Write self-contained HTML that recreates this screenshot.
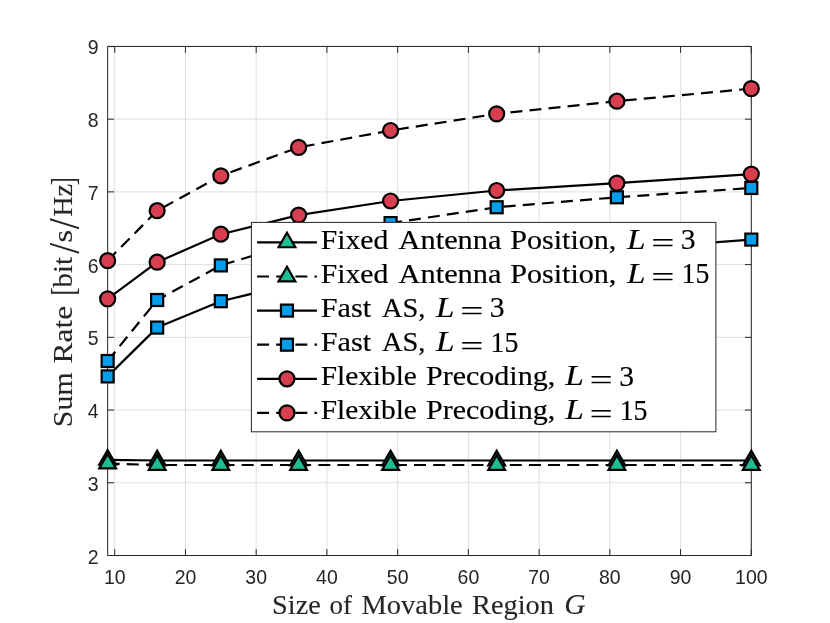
<!DOCTYPE html>
<html><head><meta charset="utf-8"><title>Sum Rate vs Size of Movable Region</title>
<style>html,body{margin:0;padding:0;background:#fff}svg{display:block}text{white-space:pre}
.t{font-family:"Liberation Sans",sans-serif;font-size:20.6px;fill:#262626}
.s{font-family:"Liberation Serif",serif;font-size:27.8px;fill:#000;stroke:#000;stroke-width:0.18px}
.i{font-style:italic;font-size:28.6px}
.d{font-size:29.6px}
.a{fill:#262626;stroke:#262626;stroke-width:0.1px}
</style></head><body>
<svg width="830" height="623" viewBox="0 0 830 623">
<rect width="830" height="623" fill="#fff"/>
<path d="M114.72,46.45V555.5M185.45,46.45V555.5M256.18,46.45V555.5M326.92,46.45V555.5M397.65,46.45V555.5M468.38,46.45V555.5M539.11,46.45V555.5M609.84,46.45V555.5M680.57,46.45V555.5M751.30,46.45V555.5M107.65,555.50H751.3M107.65,482.78H751.3M107.65,410.06H751.3M107.65,337.34H751.3M107.65,264.61H751.3M107.65,191.89H751.3M107.65,119.17H751.3M107.65,46.45H751.3" stroke="#dfdfdf" stroke-width="1" fill="none"/>
<path d="M107.65,46.45H751.3V555.5H107.65ZM114.72,555.5v-6.4M114.72,46.45v6.4M185.45,555.5v-6.4M185.45,46.45v6.4M256.18,555.5v-6.4M256.18,46.45v6.4M326.92,555.5v-6.4M326.92,46.45v6.4M397.65,555.5v-6.4M397.65,46.45v6.4M468.38,555.5v-6.4M468.38,46.45v6.4M539.11,555.5v-6.4M539.11,46.45v6.4M609.84,555.5v-6.4M609.84,46.45v6.4M680.57,555.5v-6.4M680.57,46.45v6.4M751.30,555.5v-6.4M751.30,46.45v6.4M107.65,555.50h6.4M751.3,555.50h-6.4M107.65,482.78h6.4M751.3,482.78h-6.4M107.65,410.06h6.4M751.3,410.06h-6.4M107.65,337.34h6.4M751.3,337.34h-6.4M107.65,264.61h6.4M751.3,264.61h-6.4M107.65,191.89h6.4M751.3,191.89h-6.4M107.65,119.17h6.4M751.3,119.17h-6.4M107.65,46.45h6.4M751.3,46.45h-6.4" stroke="#262626" stroke-width="1" fill="none"/>
<text class="t" transform="translate(114.72,584.3) scale(0.945,1)" text-anchor="middle">10</text>
<text class="t" transform="translate(185.45,584.3) scale(0.945,1)" text-anchor="middle">20</text>
<text class="t" transform="translate(256.18,584.3) scale(0.945,1)" text-anchor="middle">30</text>
<text class="t" transform="translate(326.92,584.3) scale(0.945,1)" text-anchor="middle">40</text>
<text class="t" transform="translate(397.65,584.3) scale(0.945,1)" text-anchor="middle">50</text>
<text class="t" transform="translate(468.38,584.3) scale(0.945,1)" text-anchor="middle">60</text>
<text class="t" transform="translate(539.11,584.3) scale(0.945,1)" text-anchor="middle">70</text>
<text class="t" transform="translate(609.84,584.3) scale(0.945,1)" text-anchor="middle">80</text>
<text class="t" transform="translate(680.57,584.3) scale(0.945,1)" text-anchor="middle">90</text>
<text class="t" transform="translate(751.30,584.3) scale(0.945,1)" text-anchor="middle">100</text>
<text class="t" transform="translate(98.6,563.50) scale(0.945,1)" text-anchor="end">2</text>
<text class="t" transform="translate(98.6,490.78) scale(0.945,1)" text-anchor="end">3</text>
<text class="t" transform="translate(98.6,418.06) scale(0.945,1)" text-anchor="end">4</text>
<text class="t" transform="translate(98.6,345.34) scale(0.945,1)" text-anchor="end">5</text>
<text class="t" transform="translate(98.6,272.61) scale(0.945,1)" text-anchor="end">6</text>
<text class="t" transform="translate(98.6,199.89) scale(0.945,1)" text-anchor="end">7</text>
<text class="t" transform="translate(98.6,127.17) scale(0.945,1)" text-anchor="end">8</text>
<text class="t" transform="translate(98.6,54.45) scale(0.945,1)" text-anchor="end">9</text>
<polyline points="107.65,459.80 157.16,460.50 220.82,460.50 298.62,460.50 390.57,460.50 496.67,460.50 616.91,460.50 751.30,460.50" fill="none" stroke="#000" stroke-width="2.2" stroke-linejoin="round"/>
<polygon points="107.65,450.10 99.25,464.65 116.05,464.65" fill="#1fbe92" stroke="#000" stroke-width="2.2" stroke-linejoin="miter"/>
<polygon points="157.16,450.80 148.76,465.35 165.56,465.35" fill="#1fbe92" stroke="#000" stroke-width="2.2" stroke-linejoin="miter"/>
<polygon points="220.82,450.80 212.42,465.35 229.22,465.35" fill="#1fbe92" stroke="#000" stroke-width="2.2" stroke-linejoin="miter"/>
<polygon points="298.62,450.80 290.22,465.35 307.02,465.35" fill="#1fbe92" stroke="#000" stroke-width="2.2" stroke-linejoin="miter"/>
<polygon points="390.57,450.80 382.17,465.35 398.97,465.35" fill="#1fbe92" stroke="#000" stroke-width="2.2" stroke-linejoin="miter"/>
<polygon points="496.67,450.80 488.27,465.35 505.07,465.35" fill="#1fbe92" stroke="#000" stroke-width="2.2" stroke-linejoin="miter"/>
<polygon points="616.91,450.80 608.51,465.35 625.31,465.35" fill="#1fbe92" stroke="#000" stroke-width="2.2" stroke-linejoin="miter"/>
<polygon points="751.30,450.80 742.90,465.35 759.70,465.35" fill="#1fbe92" stroke="#000" stroke-width="2.2" stroke-linejoin="miter"/>
<polyline points="107.65,463.60 157.16,465.00 220.82,465.00 298.62,465.00 390.57,465.00 496.67,465.00 616.91,465.00 751.30,465.00" fill="none" stroke="#000" stroke-width="2.2" stroke-dasharray="12 7.15" stroke-linejoin="round"/>
<polygon points="107.65,453.90 99.25,468.45 116.05,468.45" fill="#1fbe92" stroke="#000" stroke-width="2.2" stroke-linejoin="miter"/>
<polygon points="157.16,455.30 148.76,469.85 165.56,469.85" fill="#1fbe92" stroke="#000" stroke-width="2.2" stroke-linejoin="miter"/>
<polygon points="220.82,455.30 212.42,469.85 229.22,469.85" fill="#1fbe92" stroke="#000" stroke-width="2.2" stroke-linejoin="miter"/>
<polygon points="298.62,455.30 290.22,469.85 307.02,469.85" fill="#1fbe92" stroke="#000" stroke-width="2.2" stroke-linejoin="miter"/>
<polygon points="390.57,455.30 382.17,469.85 398.97,469.85" fill="#1fbe92" stroke="#000" stroke-width="2.2" stroke-linejoin="miter"/>
<polygon points="496.67,455.30 488.27,469.85 505.07,469.85" fill="#1fbe92" stroke="#000" stroke-width="2.2" stroke-linejoin="miter"/>
<polygon points="616.91,455.30 608.51,469.85 625.31,469.85" fill="#1fbe92" stroke="#000" stroke-width="2.2" stroke-linejoin="miter"/>
<polygon points="751.30,455.30 742.90,469.85 759.70,469.85" fill="#1fbe92" stroke="#000" stroke-width="2.2" stroke-linejoin="miter"/>
<polyline points="107.65,376.40 157.16,327.60 220.82,301.20 298.62,282.50 390.57,269.60 496.67,258.70 616.91,249.50 751.30,239.60" fill="none" stroke="#000" stroke-width="2.2" stroke-linejoin="round"/>
<rect x="101.65" y="370.40" width="12" height="12" fill="#049eec" stroke="#000" stroke-width="2.2"/>
<rect x="151.16" y="321.60" width="12" height="12" fill="#049eec" stroke="#000" stroke-width="2.2"/>
<rect x="214.82" y="295.20" width="12" height="12" fill="#049eec" stroke="#000" stroke-width="2.2"/>
<rect x="292.62" y="276.50" width="12" height="12" fill="#049eec" stroke="#000" stroke-width="2.2"/>
<rect x="384.57" y="263.60" width="12" height="12" fill="#049eec" stroke="#000" stroke-width="2.2"/>
<rect x="490.67" y="252.70" width="12" height="12" fill="#049eec" stroke="#000" stroke-width="2.2"/>
<rect x="610.91" y="243.50" width="12" height="12" fill="#049eec" stroke="#000" stroke-width="2.2"/>
<rect x="745.30" y="233.60" width="12" height="12" fill="#049eec" stroke="#000" stroke-width="2.2"/>
<polyline points="107.65,361.00 157.16,300.00 220.82,265.40 298.62,242.00 390.57,223.10 496.67,207.25 616.91,197.30 751.30,187.95" fill="none" stroke="#000" stroke-width="2.2" stroke-dasharray="12 7.15" stroke-linejoin="round"/>
<rect x="101.65" y="355.00" width="12" height="12" fill="#049eec" stroke="#000" stroke-width="2.2"/>
<rect x="151.16" y="294.00" width="12" height="12" fill="#049eec" stroke="#000" stroke-width="2.2"/>
<rect x="214.82" y="259.40" width="12" height="12" fill="#049eec" stroke="#000" stroke-width="2.2"/>
<rect x="292.62" y="236.00" width="12" height="12" fill="#049eec" stroke="#000" stroke-width="2.2"/>
<rect x="384.57" y="217.10" width="12" height="12" fill="#049eec" stroke="#000" stroke-width="2.2"/>
<rect x="490.67" y="201.25" width="12" height="12" fill="#049eec" stroke="#000" stroke-width="2.2"/>
<rect x="610.91" y="191.30" width="12" height="12" fill="#049eec" stroke="#000" stroke-width="2.2"/>
<rect x="745.30" y="181.95" width="12" height="12" fill="#049eec" stroke="#000" stroke-width="2.2"/>
<polyline points="107.65,298.90 157.16,262.20 220.82,234.20 298.62,215.10 390.57,201.00 496.67,190.50 616.91,183.10 751.30,174.10" fill="none" stroke="#000" stroke-width="2.2" stroke-linejoin="round"/>
<circle cx="107.65" cy="298.90" r="7.5" fill="#d73e50" stroke="#000" stroke-width="2.2"/>
<circle cx="157.16" cy="262.20" r="7.5" fill="#d73e50" stroke="#000" stroke-width="2.2"/>
<circle cx="220.82" cy="234.20" r="7.5" fill="#d73e50" stroke="#000" stroke-width="2.2"/>
<circle cx="298.62" cy="215.10" r="7.5" fill="#d73e50" stroke="#000" stroke-width="2.2"/>
<circle cx="390.57" cy="201.00" r="7.5" fill="#d73e50" stroke="#000" stroke-width="2.2"/>
<circle cx="496.67" cy="190.50" r="7.5" fill="#d73e50" stroke="#000" stroke-width="2.2"/>
<circle cx="616.91" cy="183.10" r="7.5" fill="#d73e50" stroke="#000" stroke-width="2.2"/>
<circle cx="751.30" cy="174.10" r="7.5" fill="#d73e50" stroke="#000" stroke-width="2.2"/>
<polyline points="107.65,260.60 157.16,210.70 220.82,175.80 298.62,147.40 390.57,130.50 496.67,113.85 616.91,101.20 751.30,88.60" fill="none" stroke="#000" stroke-width="2.2" stroke-dasharray="12 7.15" stroke-linejoin="round"/>
<circle cx="107.65" cy="260.60" r="7.5" fill="#d73e50" stroke="#000" stroke-width="2.2"/>
<circle cx="157.16" cy="210.70" r="7.5" fill="#d73e50" stroke="#000" stroke-width="2.2"/>
<circle cx="220.82" cy="175.80" r="7.5" fill="#d73e50" stroke="#000" stroke-width="2.2"/>
<circle cx="298.62" cy="147.40" r="7.5" fill="#d73e50" stroke="#000" stroke-width="2.2"/>
<circle cx="390.57" cy="130.50" r="7.5" fill="#d73e50" stroke="#000" stroke-width="2.2"/>
<circle cx="496.67" cy="113.85" r="7.5" fill="#d73e50" stroke="#000" stroke-width="2.2"/>
<circle cx="616.91" cy="101.20" r="7.5" fill="#d73e50" stroke="#000" stroke-width="2.2"/>
<circle cx="751.30" cy="88.60" r="7.5" fill="#d73e50" stroke="#000" stroke-width="2.2"/>
<rect x="251.4" y="222.4" width="464.50" height="209.40" fill="#fff" stroke="#262626" stroke-width="1"/>
<polyline points="257.05,242.40 316.90,242.40" fill="none" stroke="#000" stroke-width="2.2" stroke-linejoin="round"/>
<polygon points="286.95,232.70 278.55,247.25 295.35,247.25" fill="#1fbe92" stroke="#000" stroke-width="2.2" stroke-linejoin="miter"/>
<polyline points="257.05,276.50 316.90,276.50" fill="none" stroke="#000" stroke-width="2.2" stroke-dasharray="12 7.15" stroke-linejoin="round"/>
<polygon points="286.95,266.80 278.55,281.35 295.35,281.35" fill="#1fbe92" stroke="#000" stroke-width="2.2" stroke-linejoin="miter"/>
<polyline points="257.05,310.60 316.90,310.60" fill="none" stroke="#000" stroke-width="2.2" stroke-linejoin="round"/>
<rect x="280.95" y="304.60" width="12" height="12" fill="#049eec" stroke="#000" stroke-width="2.2"/>
<polyline points="257.05,344.70 316.90,344.70" fill="none" stroke="#000" stroke-width="2.2" stroke-dasharray="12 7.15" stroke-linejoin="round"/>
<rect x="280.95" y="338.70" width="12" height="12" fill="#049eec" stroke="#000" stroke-width="2.2"/>
<polyline points="257.05,378.80 316.90,378.80" fill="none" stroke="#000" stroke-width="2.2" stroke-linejoin="round"/>
<circle cx="286.95" cy="378.80" r="7.5" fill="#d73e50" stroke="#000" stroke-width="2.2"/>
<polyline points="257.05,412.90 316.90,412.90" fill="none" stroke="#000" stroke-width="2.2" stroke-dasharray="12 7.15" stroke-linejoin="round"/>
<circle cx="286.95" cy="412.90" r="7.5" fill="#d73e50" stroke="#000" stroke-width="2.2"/>
<text class="s" x="320.77" y="248.70" textLength="67.53" lengthAdjust="spacingAndGlyphs">Fixed</text>
<text class="s" x="398.64" y="248.70" textLength="102.82" lengthAdjust="spacingAndGlyphs">Antenna</text>
<text class="s" x="510.15" y="248.70" textLength="106.24" lengthAdjust="spacingAndGlyphs">Position,</text>
<text class="s i" x="626.94" y="248.70" textLength="18.50" lengthAdjust="spacingAndGlyphs">L</text>
<text class="s" transform="matrix(1 0 0 1.0 0 3.60)" x="651.34" y="248.70" textLength="23.11" lengthAdjust="spacingAndGlyphs">=</text>
<text class="s d" x="680.68" y="249.20" textLength="14.79" lengthAdjust="spacingAndGlyphs">3</text>
<text class="s" x="320.77" y="282.80" textLength="67.53" lengthAdjust="spacingAndGlyphs">Fixed</text>
<text class="s" x="398.64" y="282.80" textLength="102.82" lengthAdjust="spacingAndGlyphs">Antenna</text>
<text class="s" x="510.15" y="282.80" textLength="106.24" lengthAdjust="spacingAndGlyphs">Position,</text>
<text class="s i" x="626.94" y="282.80" textLength="18.50" lengthAdjust="spacingAndGlyphs">L</text>
<text class="s" transform="matrix(1 0 0 1.0 0 3.60)" x="651.34" y="282.80" textLength="23.11" lengthAdjust="spacingAndGlyphs">=</text>
<text class="s d" x="681.50" y="283.30" textLength="27.79" lengthAdjust="spacingAndGlyphs">15</text>
<text class="s" x="320.77" y="316.90" textLength="50.41" lengthAdjust="spacingAndGlyphs">Fast</text>
<text class="s" x="381.93" y="316.90" textLength="43.49" lengthAdjust="spacingAndGlyphs">AS,</text>
<text class="s i" x="435.94" y="316.90" textLength="18.50" lengthAdjust="spacingAndGlyphs">L</text>
<text class="s" transform="matrix(1 0 0 1.0 0 3.60)" x="460.34" y="316.90" textLength="23.11" lengthAdjust="spacingAndGlyphs">=</text>
<text class="s d" x="489.68" y="317.40" textLength="14.79" lengthAdjust="spacingAndGlyphs">3</text>
<text class="s" x="320.77" y="351.00" textLength="50.41" lengthAdjust="spacingAndGlyphs">Fast</text>
<text class="s" x="381.93" y="351.00" textLength="43.49" lengthAdjust="spacingAndGlyphs">AS,</text>
<text class="s i" x="435.94" y="351.00" textLength="18.50" lengthAdjust="spacingAndGlyphs">L</text>
<text class="s" transform="matrix(1 0 0 1.0 0 3.60)" x="460.34" y="351.00" textLength="23.11" lengthAdjust="spacingAndGlyphs">=</text>
<text class="s d" x="490.50" y="351.50" textLength="27.79" lengthAdjust="spacingAndGlyphs">15</text>
<text class="s" x="320.67" y="385.10" textLength="96.25" lengthAdjust="spacingAndGlyphs">Flexible</text>
<text class="s" x="426.02" y="385.10" textLength="129.17" lengthAdjust="spacingAndGlyphs">Precoding,</text>
<text class="s i" x="565.31" y="385.10" textLength="18.58" lengthAdjust="spacingAndGlyphs">L</text>
<text class="s" transform="matrix(1 0 0 1.0 0 3.60)" x="589.75" y="385.10" textLength="22.93" lengthAdjust="spacingAndGlyphs">=</text>
<text class="s d" x="619.13" y="385.60" textLength="14.79" lengthAdjust="spacingAndGlyphs">3</text>
<text class="s" x="320.67" y="419.20" textLength="96.25" lengthAdjust="spacingAndGlyphs">Flexible</text>
<text class="s" x="426.02" y="419.20" textLength="129.17" lengthAdjust="spacingAndGlyphs">Precoding,</text>
<text class="s i" x="565.31" y="419.20" textLength="18.58" lengthAdjust="spacingAndGlyphs">L</text>
<text class="s" transform="matrix(1 0 0 1.0 0 3.60)" x="589.75" y="419.20" textLength="22.93" lengthAdjust="spacingAndGlyphs">=</text>
<text class="s d" x="619.67" y="419.70" textLength="27.87" lengthAdjust="spacingAndGlyphs">15</text>
<text class="s a" x="272.06" y="614.20" textLength="48.68" lengthAdjust="spacingAndGlyphs">Size</text>
<text class="s a" x="329.56" y="614.20" textLength="22.45" lengthAdjust="spacingAndGlyphs">of</text>
<text class="s a" x="361.51" y="614.20" textLength="101.26" lengthAdjust="spacingAndGlyphs">Movable</text>
<text class="s a" x="471.94" y="614.20" textLength="82.04" lengthAdjust="spacingAndGlyphs">Region</text>
<text class="s a i" x="564.26" y="614.20" textLength="21.25" lengthAdjust="spacingAndGlyphs">G</text>
<g transform="translate(72.2,0) rotate(-90)">
<text class="s a" x="-427.15" y="0.00" textLength="54.75" lengthAdjust="spacingAndGlyphs">Sum</text>
<text class="s a" x="-363.41" y="0.00" textLength="57.53" lengthAdjust="spacingAndGlyphs">Rate</text>
<text class="s a" style="font-size:33.4px" x="-295.51" y="1.50" textLength="8.18" lengthAdjust="spacingAndGlyphs">[</text>
<text class="s a" x="-287.52" y="0.00" textLength="30.43" lengthAdjust="spacingAndGlyphs">bit</text>
<text class="s a" style="font-size:43.5px" x="-253.84" y="6.50" textLength="10.86" lengthAdjust="spacingAndGlyphs">/</text>
<text class="s a" x="-242.48" y="0.00" textLength="12.59" lengthAdjust="spacingAndGlyphs">s</text>
<text class="s a" style="font-size:43.5px" x="-229.16" y="6.50" textLength="10.92" lengthAdjust="spacingAndGlyphs">/</text>
<text class="s a" x="-216.85" y="0.00" textLength="32.93" lengthAdjust="spacingAndGlyphs">Hz</text>
<text class="s a" style="font-size:33.4px" x="-184.98" y="1.50" textLength="7.81" lengthAdjust="spacingAndGlyphs">]</text>
</g>
</svg></body></html>
